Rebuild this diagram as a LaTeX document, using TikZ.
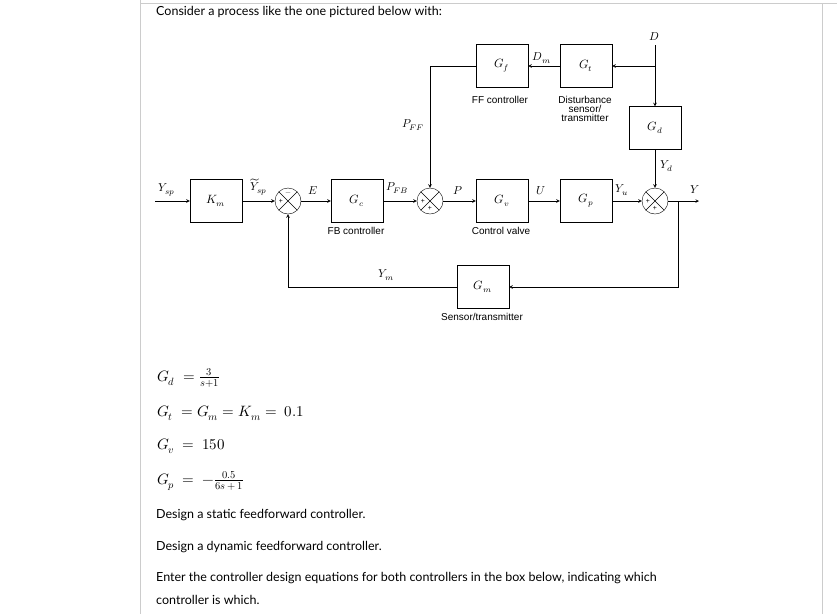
\documentclass[tikz,border=0pt]{standalone}
\usepackage{fontspec}
\setmainfont{Lato}
\usepackage{unicode-math}
\setmathfont{Latin Modern Math}
\newfontfamily\lbl{Liberation Sans}
\begin{document}
\begin{tikzpicture}[x=1pt,y=-1pt,
 blk/.style={draw,minimum width=52pt,minimum height=43pt,inner sep=0,font=\fontsize{12}{14}\selectfont},
 sm/.style={draw,circle,minimum size=26pt,inner sep=0,path picture={\draw (path picture bounding box.north west)--(path picture bounding box.south east) (path picture bounding box.north east)--(path picture bounding box.south west);}},
 ar/.style={->,>=stealth,semithick},
 capt/.style={font=\lbl\fontsize{10}{11}\selectfont,align=center},
 ml/.style={font=\fontsize{11.5}{13}\selectfont,inner sep=0},
 txt/.style={font=\fontsize{12.5}{15}\selectfont,anchor=west,inner sep=0},
 eq/.style={anchor=west,inner sep=0,font=\fontsize{15}{17}\selectfont}]
\useasboundingbox (0,0) rectangle (837,614);
\draw[gray!40] (140,0)--(140,614) (140,3)--(837,3) (822,3)--(822,614);
\node[txt] at (156,12) {Consider a process like the one pictured below with:};
% blocks
\node[blk] (km) at (216,201) {$K_m$};
\node[sm] (s1) at (288,201) {};
\node[blk] (gc) at (357,201) {$G_c$};
\node[sm] (s2) at (430,201) {};
\node[blk] (gv) at (502,201) {$G_v$};
\node[blk] (gp) at (586,201) {$G_p$};
\node[sm] (s3) at (655,201) {};
\node[blk] (gf) at (502,66) {$G_f$};
\node[blk] (gt) at (586,66) {$G_t$};
\node[blk] (gd) at (655,128) {$G_d$};
\node[blk] (gm) at (483,287) {$G_m$};
\coordinate (in) at (155,201);
\coordinate (out) at (699,201);
\coordinate (dt) at (655,45);
\coordinate (db) at (655,66);
\coordinate (yr) at (678,201);
% signs
\node[font=\scriptsize,inner sep=0] at ([xshift=-7pt]s1.center) {+};
\node[font=\scriptsize,inner sep=0] at ([yshift=7pt]s1.center) {$-$};
\node[font=\scriptsize,inner sep=0] at ([xshift=-7pt]s2.center) {+};
\node[font=\scriptsize,inner sep=0] at ([yshift=-7pt]s2.center) {+};
\node[font=\scriptsize,inner sep=0] at ([xshift=-7pt]s3.center) {+};
\node[font=\scriptsize,inner sep=0] at ([yshift=-7pt]s3.center) {+};
% connectors
\draw[ar] (in)--(km);
\draw[ar] (km)--(s1);
\draw[ar] (s1)--(gc);
\draw[ar] (gc)--(s2);
\draw[ar] (s2)--(gv);
\draw[ar] (gv)--(gp);
\draw[ar] (gp)--(s3);
\draw[ar] (s3)--(out);
\draw[ar] (yr)|-(gm);
\draw[ar] (gm)-|(s1);
\draw[ar] (dt)--(gd);
\draw[ar] (gd)--(s3);
\draw[ar] (db)--(gt);
\draw[ar] (gt)--(gf);
\draw[ar] (gf)-|(s2);
% labels
\node[ml] at (167,190) {$Y_{sp}$};
\node[ml] at (259,187) {$\widetilde{Y}_{sp}$};
\node[ml] at (313,191) {$E$};
\node[ml] at (397,188) {$P_{FB}$};
\node[ml] at (458,191) {$P$};
\node[ml] at (541,191) {$U$};
\node[ml] at (622,190) {$Y_u$};
\node[ml] at (695,190) {$Y$};
\node[ml] at (667,166) {$Y_d$};
\node[ml] at (413,125) {$P_{FF}$};
\node[ml] at (542,58) {$D_m$};
\node[ml] at (386,275) {$Y_m$};
\node[ml] at (654,37) {$D$};
\node[capt] at (356,231) {FB controller};
\node[capt] at (501,231) {Control valve};
\node[capt] at (482,317) {Sensor/transmitter};
\node[capt] at (500,100) {FF controller};
\node[capt,anchor=north] at (585,93) {Disturbance\\[-2pt]sensor/\\[-2pt]transmitter};
% equations
\node[eq] at (157,378) {$G_d\ =\frac{3}{s+1}$};
\node[eq] at (157,413) {$G_t\ =G_m=K_m=\ 0.1$};
\node[eq] at (157,446) {$G_v\ =\ 150$};
\node[eq] at (157,481) {$G_p\ =\ -\frac{0.5}{6s\,+\,1}$};
\node[txt] at (156,515) {Design a static feedforward controller.};
\node[txt] at (156,547) {Design a dynamic feedforward controller.};
\node[txt] at (156,578) {Enter the controller design equations for both controllers in the box below, indicating which};
\node[txt] at (156,600) {controller is which.};
\end{tikzpicture}
\end{document}
